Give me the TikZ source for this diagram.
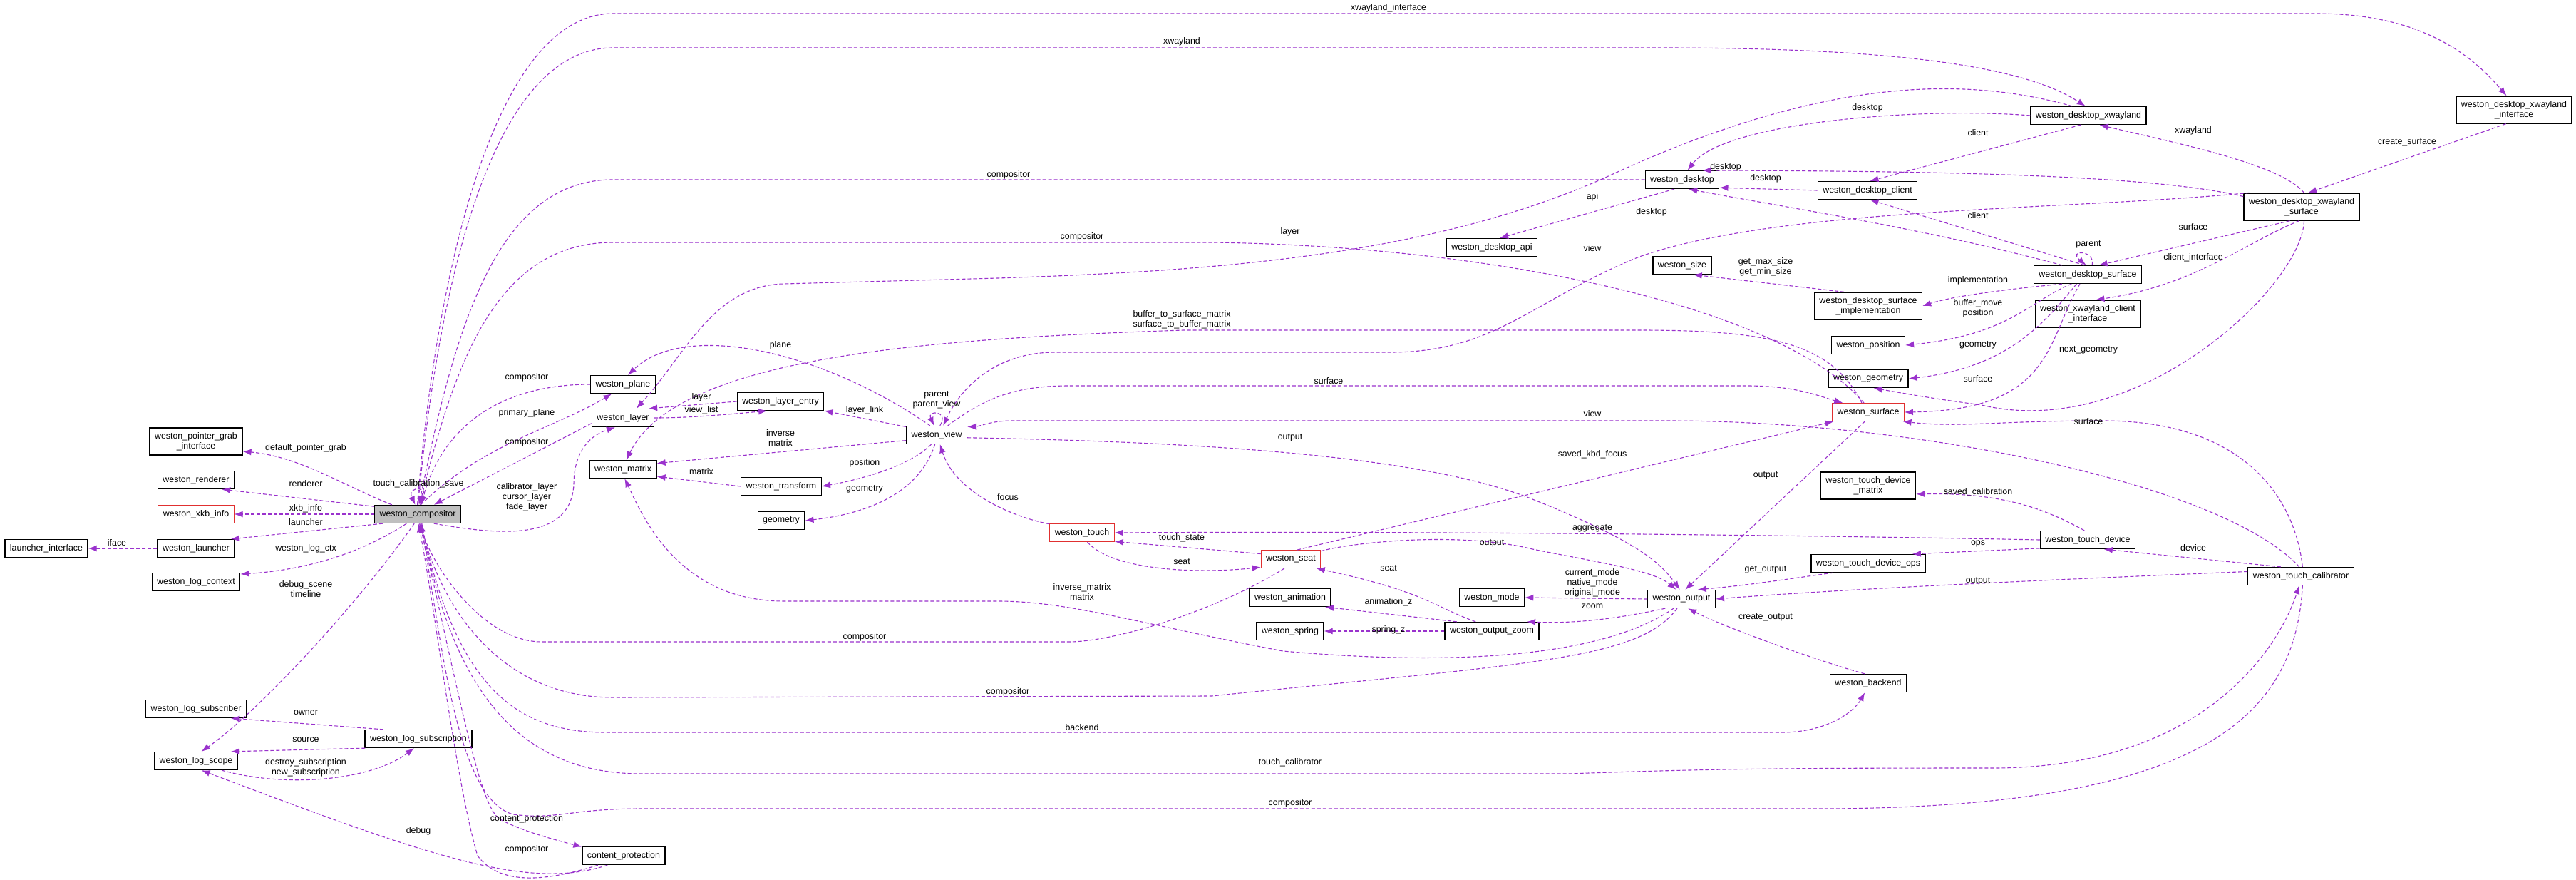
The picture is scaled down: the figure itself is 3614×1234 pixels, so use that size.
\documentclass[tikz,border=0pt]{standalone}
\usepackage{fontspec}
\setmainfont{Liberation Sans}
\usetikzlibrary{arrows.meta}
\definecolor{ec}{HTML}{9A32CD}
\definecolor{rb}{HTML}{E03030}
\begin{document}
\begin{tikzpicture}[x=1pt,y=-1pt,
 box/.style={draw=black,line width=1.3pt,fill=white,minimum height=25pt,inner xsep=7pt,inner ysep=2pt,font=\fontsize{12.4}{14}\selectfont,align=center},
 box2/.style={box,minimum height=38pt},
 redbox/.style={box,draw=rb,line width=1pt},
 e/.style={draw=ec,line width=1.1pt,dash pattern=on 5pt off 3pt,-{Latex[length=12pt,width=9pt]}},
 lab/.style={font=\fontsize{12.4}{14}\selectfont,align=center,inner sep=0pt}]
\useasboundingbox (0,0) rectangle (3614,1234);
\fill[white] (0,0) rectangle (3614,1234);
% nodes
\node[box,fill=black!25] (comp) at (586,721) {weston\_compositor};
\node[box2] (pgi) at (275,619) {weston\_pointer\_grab\\\_interface};
\node[box] (rend) at (275,673) {weston\_renderer};
\node[redbox] (xkb) at (275,721) {weston\_xkb\_info};
\node[box] (li) at (65,769) {launcher\_interface};
\node[box] (lau) at (275,769) {weston\_launcher};
\node[box] (lctx) at (275,816) {weston\_log\_context};
\node[box] (lsub) at (275,994) {weston\_log\_subscriber};
\node[box] (lsubn) at (587,1036) {weston\_log\_subscription};
\node[box] (lscope) at (275,1067) {weston\_log\_scope};
\node[box] (cp) at (875,1200) {content\_protection};
\node[box] (plane) at (874,539) {weston\_plane};
\node[box] (layer) at (874,586) {weston\_layer};
\node[box] (matrix) at (874,658) {weston\_matrix};
\node[box] (lentry) at (1095,563) {weston\_layer\_entry};
\node[box] (view) at (1314,610) {weston\_view};
\node[box] (trans) at (1096,682) {weston\_transform};
\node[box] (geom) at (1096,730) {geometry};
\node[redbox] (touch) at (1518,747) {weston\_touch};
\node[redbox] (seat) at (1811,784) {weston\_seat};
\node[box] (anim) at (1810,838) {weston\_animation};
\node[box] (spring) at (1810,885) {weston\_spring};
\node[box] (mode) at (2093,838) {weston\_mode};
\node[box] (output) at (2359,840) {weston\_output};
\node[box] (ozoom) at (2093,885) {weston\_output\_zoom};
\node[box] (backend) at (2621,958) {weston\_backend};
\node[box] (tdops) at (2621,790) {weston\_touch\_device\_ops};
\node[box] (tdev) at (2929,757) {weston\_touch\_device};
\node[box2] (tdmat) at (2621,681) {weston\_touch\_device\\\_matrix};
\node[box] (tcal) at (3228,808) {weston\_touch\_calibrator};
\node[redbox] (surface) at (2621,578) {weston\_surface};
\node[box] (wgeom) at (2621,531) {weston\_geometry};
\node[box] (wpos) at (2621,484) {weston\_position};
\node[box2] (dsi) at (2621,429) {weston\_desktop\_surface\\\_implementation};
\node[box] (size) at (2360,372) {weston\_size};
\node[box] (dsurf) at (2929,385) {weston\_desktop\_surface};
\node[box2] (xci) at (2929,440) {weston\_xwayland\_client\\\_interface};
\node[box] (api) at (2093,347) {weston\_desktop\_api};
\node[box] (desktop) at (2360,252) {weston\_desktop};
\node[box] (dclient) at (2620,267) {weston\_desktop\_client};
\node[box] (dxw) at (2930,162) {weston\_desktop\_xwayland};
\node[box2] (xws) at (3229,290) {weston\_desktop\_xwayland\\\_surface};
\node[box2] (xwi) at (3527,154) {weston\_desktop\_xwayland\\\_interface};
% left group
\draw[e] (comp.160) .. controls (480,680) and (420,640) .. (pgi.-12);
\draw[e] (comp.170) -- (rend.-20);
\draw[e] (comp.west) -- (xkb.east);
\draw[e] (comp.-165) -- (lau.15);
\draw[e] (lau.west) -- (li.east);
\draw[e] (comp.-140) .. controls (500,780) and (420,800) .. (lctx.10);
\draw[e] (comp.-110) .. controls (500,850) and (360,1000) .. (lscope.60);
\draw[e] (lsubn.165) -- (lsub.-15);
\draw[e] (lsubn.-170) -- (lscope.15);
\draw[e] (lscope.-20) .. controls (400,1105) and (520,1095) .. (lsubn.-115);
\draw[e] (cp.-150) .. controls (740,1250) and (600,1200) .. (lscope.-60);
\draw[e] (comp.75) .. controls (610,680) and (570,680) .. (comp.105);
\draw[e] (plane.west) .. controls (700,539) and (620,600) .. (comp.70);
\draw[e] (comp.72) .. controls (680,620) and (780,600) .. (plane.-140);
\draw[e] (layer.190) -- (comp.30);
\draw[e] (comp.-30) .. controls (700,750) and (800,760) .. (805,680) .. controls (805,630) and (830,610) .. (layer.-130);
\draw[e] (comp.-78) .. controls (640,950) and (670,1125) .. (700,1148) .. controls (730,1165) and (780,1178) .. (cp.168);
\draw[e] (cp.-160) .. controls (760,1238) and (700,1240) .. (670,1200) .. controls (640,1100) and (610,850) .. (comp.-86);
% view group
\draw[e] (layer.east) .. controls (960,586) and (1000,583) .. (lentry.-145);
\draw[e] (lentry.west) -- (layer.20);
\draw[e] (view.165) -- (lentry.-12);
\draw[e] (view.125) .. controls (1150,490) and (960,450) .. (plane.62);
\draw[e] (view.-170) -- (matrix.10);
\draw[e] (trans.west) -- (matrix.-12);
\draw[e] (view.-120) .. controls (1280,650) and (1220,670) .. (trans.east);
\draw[e] (view.-100) .. controls (1290,690) and (1220,720) .. (geom.east);
\draw[e] (view.70) .. controls (1332,575) and (1300,575) .. (view.105);
\draw[e] (touch.165) .. controls (1420,725) and (1340,690) .. (view.-70);
\draw[e] (tdev.west) .. controls (2400,748) and (1900,745) .. (touch.east);
\draw[e] (seat.170) -- (touch.-15);
\draw[e] (touch.-60) .. controls (1560,800) and (1680,805) .. (seat.-165);
% lines into compositor bottom
\draw[e] (seat.-125) .. controls (1700,860) and (1560,900) .. (1500,900) -- (760,900) .. controls (680,900) and (610,800) .. (comp.-80);
\draw[e] (output.-115) .. controls (2300,925) and (2150,930) .. (1700,976) -- (860,978) .. controls (700,978) and (620,850) .. (comp.-75);
\draw[e] (comp.-70) .. controls (640,960) and (720,1027) .. (850,1027) -- (2500,1027) .. controls (2560,1027) and (2600,1000) .. (backend.-110);
\draw[e] (comp.-66) .. controls (640,1010) and (760,1085) .. (900,1085) -- (2200,1085) .. controls (2400,1078) and (2500,1077) .. (2800,1077) .. controls (3100,1075) and (3200,900) .. (tcal.-100);
\draw[e] (tcal.-80) .. controls (3220,1000) and (3100,1134) .. (2550,1134) -- (900,1134) .. controls (800,1134) and (780,1150) .. (720,1142) .. controls (640,1120) and (620,900) .. (comp.-72);
% output group
\draw[e] (surface.-110) -- (output.68);
\draw[e] (view.-5) .. controls (1700,620) and (2000,640) .. (2150,700) .. controls (2300,760) and (2330,790) .. (output.100);
\draw[e] (seat.15) .. controls (1900,760) and (2050,745) .. (2150,770) .. controls (2250,790) and (2320,800) .. (output.120);
\draw[e] (seat.55) -- (surface.-165);
\draw[e] (ozoom.150) .. controls (2010,850) and (2000,830) .. (seat.-20);
\draw[e] (ozoom.165) -- (anim.-15);
\draw[e] (ozoom.west) -- (spring.east);
\draw[e] (output.west) -- (mode.east);
\draw[e] (output.-150) .. controls (2280,865) and (2220,875) .. (ozoom.15);
\draw[e] (output.-130) .. controls (2250,920) and (2050,935) .. (1800,913) .. controls (1600,875) and (1500,843) .. (1400,843) -- (1100,843) .. controls (950,843) and (900,720) .. (matrix.-80);
\draw[e] (backend.110) .. controls (2560,930) and (2420,880) .. (output.-55);
\draw[e] (tdops.-165) .. controls (2520,810) and (2460,820) .. (output.30);
\draw[e] (tcal.175) .. controls (2900,812) and (2600,825) .. (output.east);
\draw[e] (tcal.155) -- (tdev.-30);
\draw[e] (tdev.-170) -- (tdops.12);
\draw[e] (tdev.110) .. controls (2880,720) and (2820,690) .. (tdmat.-10);
\draw[e] (tcal.80) .. controls (3220,700) and (3150,590) .. (2950,590) .. controls (2800,590) and (2750,600) .. (surface.-15);
\draw[e] (tcal.100) .. controls (3120,680) and (2700,592) .. (2350,590) -- (1420,590) .. controls (1390,590) and (1375,598) .. (view.15);
% surface group
\draw[e] (view.40) .. controls (1380,560) and (1420,541) .. (1500,541) -- (2450,541) .. controls (2520,541) and (2550,555) .. (surface.160);
\draw[e] (surface.125) .. controls (2570,480) and (2480,463) .. (2300,463) -- (1660,463) .. controls (1300,475) and (950,500) .. (matrix.70);
\draw[e] (surface.115) .. controls (2500,430) and (2100,345) .. (1700,340) -- (860,340) .. controls (700,340) and (640,500) .. (comp.78);
\draw[e] (desktop.west) -- (860,252) .. controls (700,252) and (640,450) .. (comp.82);
\draw[e] (dxw.150) .. controls (2750,105) and (2550,110) .. (2250,250) .. controls (2000,360) and (1700,380) .. (1400,390) -- (1100,398) .. controls (1000,400) and (960,500) .. (layer.35);
\draw[e] (xws.165) .. controls (2900,295) and (2500,290) .. (2300,360) .. controls (2150,420) and (2100,494) .. (1950,494) -- (1480,494) .. controls (1400,494) and (1350,540) .. (view.55);
\draw[e] (comp.88) .. controls (615,400) and (690,67) .. (860,67) -- (2330,67) .. controls (2700,67) and (2850,100) .. (dxw.108);
\draw[e] (comp.92) .. controls (610,400) and (690,19) .. (860,19) -- (3250,19) .. controls (3400,19) and (3470,80) .. (xwi.118);
\draw[e] (xwi.-120) -- (xws.65);
\draw[e] (dxw.west) .. controls (2700,150) and (2420,170) .. (desktop.60);
\draw[e] (dxw.-130) -- (dclient.75);
\draw[e] (xws.80) .. controls (3200,230) and (3050,200) .. (dxw.-40);
\draw[e] (xws.170) .. controls (3000,240) and (2600,240) .. (desktop.25);
\draw[e] (dclient.west) -- (desktop.-12);
\draw[e] (dsurf.160) .. controls (2700,320) and (2500,290) .. (desktop.-55);
\draw[e] (dsurf.110) -- (dclient.-75);
\draw[e] (desktop.-130) -- (api.50);
\draw[e] (xws.-130) -- (dsurf.40);
\draw[e] (dsurf.65) .. controls (2940,350) and (2900,350) .. (dsurf.100);
\draw[e] (xws.-100) .. controls (3150,340) and (3080,400) .. (xci.60);
\draw[e] (dsi.150) -- (size.-40);
\draw[e] (dsurf.-160) .. controls (2820,405) and (2740,415) .. (dsi.east);
\draw[e] (dsurf.-150) .. controls (2850,420) and (2820,470) .. (wpos.east);
\draw[e] (dsurf.-140) .. controls (2870,450) and (2820,515) .. (wgeom.east);
\draw[e] (dsurf.-130) .. controls (2870,480) and (2880,575) .. (surface.east);
\draw[e] (xws.-80) .. controls (3230,400) and (3000,620) .. (2780,568) .. controls (2720,560) and (2690,555) .. (wgeom.-60);
% labels
\node[lab] (l1) at (429,628) {default\_pointer\_grab};
\node[lab] (l2) at (429,678) {renderer};
\node[lab] (l3) at (587,678) {touch\_calibration\_save};
\node[lab] (l4) at (429,713) {xkb\_info};
\node[lab] (l5) at (429,732) {launcher};
\node[lab] (l6) at (164,761) {iface};
\node[lab] (l7) at (429,769) {weston\_log\_ctx};
\node[lab] (l8) at (429,826) {debug\_scene\\timeline};
\node[lab] (l9) at (429,999) {owner};
\node[lab] (l10) at (429,1037) {source};
\node[lab] (l11) at (429,1076) {destroy\_subscription\\new\_subscription};
\node[lab] (l12) at (739,1148) {content\_protection};
\node[lab] (l13) at (587,1165) {debug};
\node[lab] (l14) at (739,1191) {compositor};
\node[lab] (l15) at (739,529) {compositor};
\node[lab] (l16) at (739,579) {primary\_plane};
\node[lab] (l17) at (739,620) {compositor};
\node[lab] (l18) at (739,697) {calibrator\_layer\\cursor\_layer\\fade\_layer};
\node[lab] (l19) at (1095,484) {plane};
\node[lab] (l20) at (984,557) {layer};
\node[lab] (l21) at (984,575) {view\_list};
\node[lab] (l22) at (1213,575) {layer\_link};
\node[lab] (l23) at (1314,561) {parent\\parent\_view};
\node[lab] (l24) at (1095,614) {inverse\\matrix};
\node[lab] (l25) at (984,661) {matrix};
\node[lab] (l26) at (1213,649) {position};
\node[lab] (l27) at (1213,686) {geometry};
\node[lab] (l28) at (1414,697) {focus};
\node[lab] (l29) at (1658,754) {touch\_state};
\node[lab] (l30) at (1658,788) {seat};
\node[lab] (l31) at (1518,830) {inverse\_matrix\\matrix};
\node[lab] (l32) at (1213,893) {compositor};
\node[lab] (l33) at (1414,970) {compositor};
\node[lab] (l34) at (1518,1020) {backend};
\node[lab] (l35) at (1810,1069) {touch\_calibrator};
\node[lab] (l36) at (1810,1126) {compositor};
\node[lab] (l37) at (1948,11) {xwayland\_interface};
\node[lab] (l38) at (1658,58) {xwayland};
\node[lab] (l39) at (1415,245) {compositor};
\node[lab] (l40) at (1518,332) {compositor};
\node[lab] (l41) at (1658,448) {buffer\_to\_surface\_matrix\\surface\_to\_buffer\_matrix};
\node[lab] (l42) at (1864,534) {surface};
\node[lab] (l43) at (1810,325) {layer};
\node[lab] (l44) at (2234,348) {view};
\node[lab] (l45) at (2620,151) {desktop};
\node[lab] (l46) at (2775,186) {client};
\node[lab] (l47) at (3077,183) {xwayland};
\node[lab] (l48) at (3377,199) {create\_surface};
\node[lab] (l49) at (2421,234) {desktop};
\node[lab] (l50) at (2477,250) {desktop};
\node[lab] (l51) at (2234,276) {api};
\node[lab] (l52) at (2317,297) {desktop};
\node[lab] (l53) at (2775,302) {client};
\node[lab] (l54) at (3077,318) {surface};
\node[lab] (l55) at (2930,343) {parent};
\node[lab] (l56) at (3077,361) {client\_interface};
\node[lab] (l57) at (2477,374) {get\_max\_size\\get\_min\_size};
\node[lab] (l58) at (2775,393) {implementation};
\node[lab] (l59) at (2775,432) {buffer\_move\\position};
\node[lab] (l60) at (2775,484) {geometry};
\node[lab] (l61) at (2930,491) {next\_geometry};
\node[lab] (l62) at (2775,531) {surface};
\node[lab] (l63) at (2930,591) {surface};
\node[lab] (l64) at (2234,580) {view};
\node[lab] (l65) at (1810,614) {output};
\node[lab] (l66) at (2234,637) {saved\_kbd\_focus};
\node[lab] (l67) at (2477,667) {output};
\node[lab] (l68) at (2775,690) {saved\_calibration};
\node[lab] (l69) at (2234,741) {aggregate};
\node[lab] (l70) at (2093,762) {output};
\node[lab] (l71) at (2775,762) {ops};
\node[lab] (l72) at (3077,768) {device};
\node[lab] (l73) at (1948,797) {seat};
\node[lab] (l74) at (2477,799) {get\_output};
\node[lab] (l75) at (2234,817) {current\_mode\\native\_mode\\original\_mode};
\node[lab] (l76) at (2775,815) {output};
\node[lab] (l77) at (1948,844) {animation\_z};
\node[lab] (l78) at (2234,850) {zoom};
\node[lab] (l79) at (2477,866) {create\_output};
\node[lab] (l80) at (1948,883) {spring\_z};
\end{tikzpicture}
\end{document}
